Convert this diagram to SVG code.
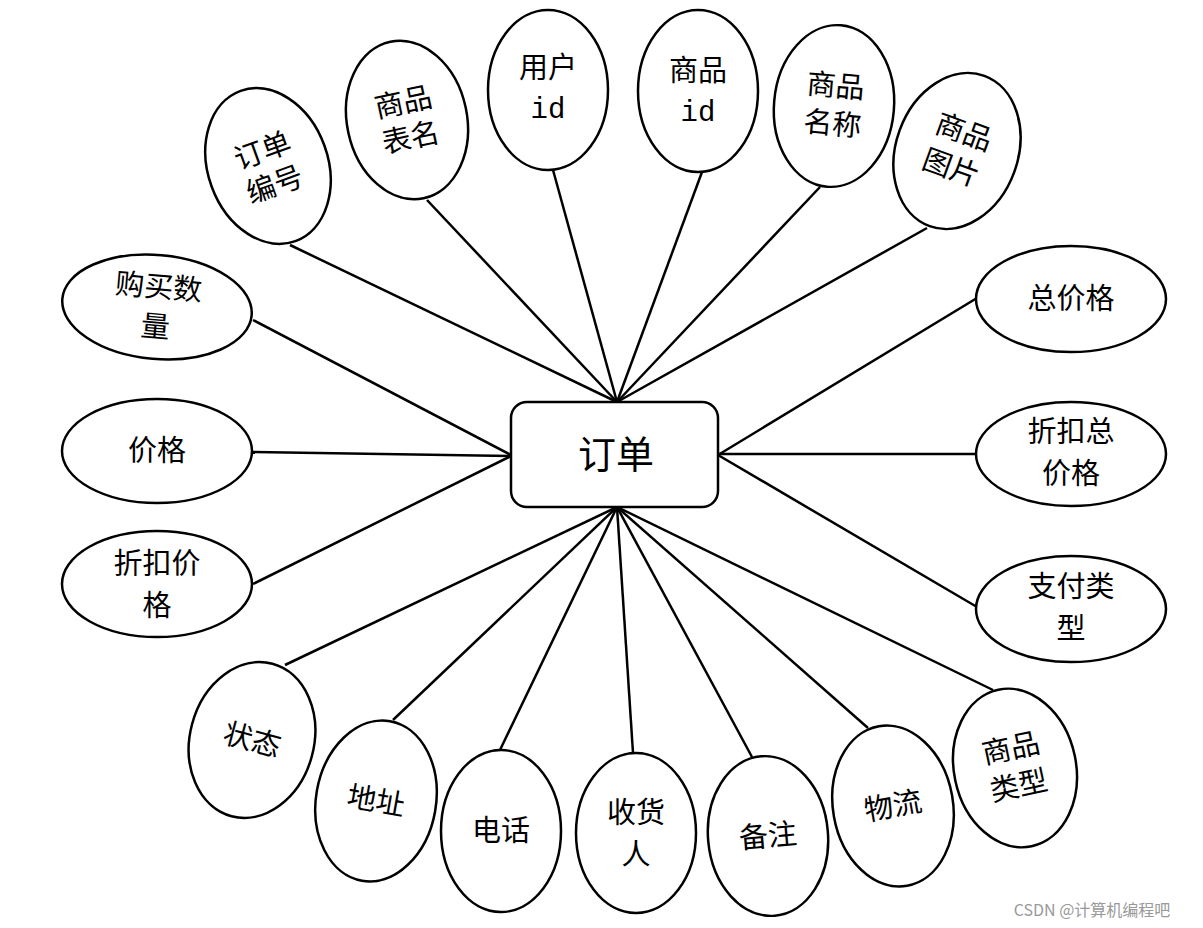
<svg xmlns="http://www.w3.org/2000/svg" width="1203" height="928" viewBox="0 0 1203 928">
<style>
.e{fill:#fff;stroke:#000;stroke-width:2.5}
.t{font-family:"Noto Sans CJK SC","Noto Sans",sans-serif;font-size:29px;text-anchor:middle;fill:#000}
.m{font-family:"Liberation Mono",monospace}
.c line{stroke:#000;stroke-width:2.5}
</style>
<rect width="1203" height="928" fill="#fff"/>
<g class="c">
<line x1="617" y1="402" x2="290" y2="245"/><line x1="617" y1="402" x2="427" y2="200"/><line x1="617" y1="402" x2="553" y2="170"/>
<line x1="617" y1="402" x2="702" y2="172"/><line x1="617" y1="402" x2="820" y2="187"/><line x1="617" y1="402" x2="927" y2="228"/>
<line x1="718" y1="455" x2="977" y2="298"/><line x1="718" y1="454" x2="977" y2="454"/><line x1="718" y1="455" x2="977" y2="607"/>
<line x1="511" y1="455" x2="253" y2="320"/><line x1="511" y1="456" x2="253" y2="452"/><line x1="511" y1="456" x2="253" y2="584"/>
<line x1="617" y1="507" x2="285" y2="665"/><line x1="617" y1="507" x2="393" y2="720"/><line x1="617" y1="507" x2="500" y2="750"/>
<line x1="617" y1="507" x2="633" y2="753"/><line x1="617" y1="507" x2="752" y2="757"/><line x1="617" y1="507" x2="868" y2="728"/><line x1="617" y1="507" x2="993" y2="690"/>
</g>
<g id="center"><rect x="511" y="402" width="207" height="105" rx="16" class="e"/><text x="616" y="468" class="t" style="font-size:38px">订单</text></g>
<g id="n1" transform="translate(268,166) rotate(-20)"><ellipse rx="60" ry="80" class="e"/><text y="-6" class="t">订单</text><text y="30" class="t">编号</text></g>
<g id="n2" transform="translate(407,120) rotate(-12)"><ellipse rx="60" ry="80" class="e"/><text y="-8" class="t">商品</text><text y="28" class="t">表名</text></g>
<g id="n3" transform="translate(548,90)"><ellipse rx="60" ry="80" class="e"/><text y="-12" class="t">用户</text><text y="28" class="t m">id</text></g>
<g id="n4" transform="translate(698,91)"><ellipse rx="60" ry="81" class="e"/><text y="-10" class="t">商品</text><text y="30" class="t m">id</text></g>
<g id="n5" transform="translate(834,106) rotate(5)"><ellipse rx="60" ry="81" class="e"/><text y="-10" class="t">商品</text><text y="28" class="t">名称</text></g>
<g id="n6" transform="translate(957,151) rotate(20)"><ellipse rx="61" ry="80" class="e"/><text y="-10" class="t">商品</text><text y="28" class="t">图片</text></g>
<g id="n7" transform="translate(1071,299)"><ellipse rx="95" ry="53" class="e"/><text y="10" class="t">总价格</text></g>
<g id="n8" transform="translate(1071,454)"><ellipse rx="95" ry="52" class="e"/><text y="-12" class="t">折扣总</text><text y="30" class="t">价格</text></g>
<g id="n9" transform="translate(1071,609)"><ellipse rx="95" ry="53" class="e"/><text y="-12" class="t">支付类</text><text y="30" class="t">型</text></g>
<g id="n10" transform="translate(1015,768) rotate(-12)"><ellipse rx="61" ry="80" class="e"/><text y="-10" class="t">商品</text><text y="28" class="t">类型</text></g>
<g id="n11" transform="translate(893,806) rotate(-10)"><ellipse rx="60" ry="81" class="e"/><text y="10" class="t">物流</text></g>
<g id="n12" transform="translate(768,836) rotate(-5)"><ellipse rx="60" ry="80" class="e"/><text y="10" class="t">备注</text></g>
<g id="n13" transform="translate(636,833)"><ellipse rx="60" ry="80" class="e"/><text y="-10" class="t">收货</text><text y="32" class="t">人</text></g>
<g id="n14" transform="translate(501,831)"><ellipse rx="60" ry="81" class="e"/><text y="10" class="t">电话</text></g>
<g id="n15" transform="translate(376,801) rotate(10)"><ellipse rx="60" ry="81" class="e"/><text y="10" class="t">地址</text></g>
<g id="n16" transform="translate(252,740) rotate(15)"><ellipse rx="62" ry="79" class="e"/><text y="10" class="t">状态</text></g>
<g id="n17" transform="translate(157,584)"><ellipse rx="95" ry="53" class="e"/><text y="-10" class="t">折扣价</text><text y="32" class="t">格</text></g>
<g id="n18" transform="translate(157,451)"><ellipse rx="95" ry="52" class="e"/><text y="10" class="t">价格</text></g>
<g id="n19" transform="translate(157,307) rotate(5)"><ellipse rx="95" ry="52" class="e"/><text y="-10" class="t">购买数</text><text y="30" class="t">量</text></g>
<text x="1092" y="916" font-family="Noto Sans CJK SC,sans-serif" font-size="16" fill="#999" text-anchor="middle">CSDN @计算机编程吧</text>
</svg>
